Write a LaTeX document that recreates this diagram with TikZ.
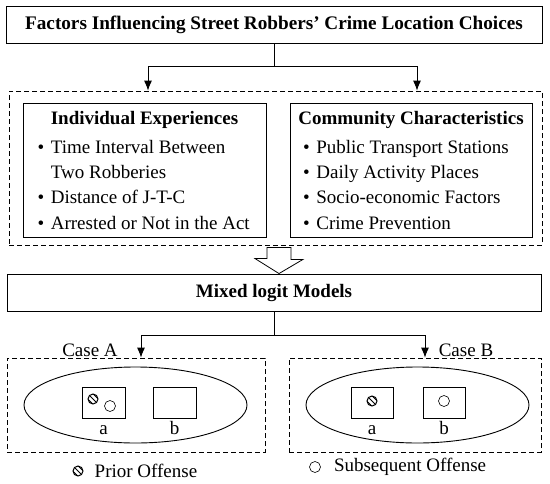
\documentclass[tikz,border=0pt]{standalone}
\usepackage{fontspec}
\setmainfont{Liberation Serif}
\usepackage{tikz}
\usetikzlibrary{positioning, arrows.meta, shapes.geometric}

\tikzset{
  box/.style={draw, line width=0.9pt, inner sep=0pt},
  dashbox/.style={draw, dashed, dash pattern=on 5pt off 3pt, line width=0.8pt, inner sep=0pt},
  link/.style={line width=0.9pt},
  arrowlink/.style={line width=0.9pt, -{Latex[length=10pt, width=8pt]}},
  prior/.style={circle, draw, line width=1pt, minimum size=10pt, inner sep=0pt,
    path picture={
      \foreach \d in {-2.6, 0, 2.6}
        \draw[line width=0.9pt] ([shift={(\d pt,\d pt)}]path picture bounding box.north west)
          -- ([shift={(\d pt,\d pt)}]path picture bounding box.south east);
    }},
  subseq/.style={circle, draw, line width=0.6pt, minimum size=11pt, inner sep=0pt},
  caselabel/.style={below=3pt, text height=13pt, text depth=0pt, inner sep=0pt},
}

\begin{document}
\begin{tikzpicture}[x=1pt, y=-1pt, every node/.style={font=\fontsize{19}{22}\selectfont}]
    \useasboundingbox (0,0) rectangle (550,483);

    % Nodes
    \node[box, minimum width=536, minimum height=37] (title) at (274,24.5)
      {\fontsize{19.2}{22}\selectfont\bfseries Factors Influencing Street Robbers' Crime Location Choices};
    \node[dashbox, minimum width=533, minimum height=154] (factors) at (275.5,168) {};
    \node[box, minimum width=243, minimum height=134] (indiv) at (144.5,170) {};
    \node[box, minimum width=242, minimum height=134] (comm) at (411,170) {};

    \node (indivhead) at (144.5,120) {\bfseries Individual Experiences};
    \node[anchor=west, inner sep=0pt] (indivlist) at (37.5,186) {\fontsize{19}{25.3}\selectfont
      \begin{tabular}{@{}l@{\hspace{6.5pt}}l@{}}
        \textbullet & Time Interval Between\\
                    & Two Robberies\\
        \textbullet & Distance of J-T-C\\
        \textbullet & Arrested or Not in the Act
      \end{tabular}};
    \node (commhead) at (411,120) {\bfseries Community Characteristics};
    \node[anchor=west, inner sep=0pt] (commlist) at (303,186) {\fontsize{19}{25.3}\selectfont
      \begin{tabular}{@{}l@{\hspace{6.5pt}}l@{}}
        \textbullet & Public Transport Stations\\
        \textbullet & Daily Activity Places\\
        \textbullet & Socio-economic Factors\\
        \textbullet & Crime Prevention
      \end{tabular}};

    \node[box, minimum width=534, minimum height=37] (mixed) at (274,292.5) {\bfseries Mixed logit Models};

    \node[dashbox, minimum width=258, minimum height=94] (caseA) at (136,405) {};
    \node[dashbox, minimum width=252, minimum height=94] (caseB) at (415,405) {};
    \node (caseAlabel) at (90,350) {Case A};
    \node (caseBlabel) at (466,350) {Case B};

    \node[draw, ellipse, line width=0.9pt, minimum width=223, minimum height=76] (ellA) at (135.5,405) {};
    \node[draw, ellipse, line width=0.9pt, minimum width=223, minimum height=76] (ellB) at (417.5,405) {};

    \node[box, minimum width=43, minimum height=31] (Aa) at (103.5,402.5) {};
    \node[box, minimum width=43, minimum height=31] (Ab) at (174.5,402.5) {};
    \node[box, minimum width=42, minimum height=31] (Ba) at (372,402.5) {};
    \node[box, minimum width=42, minimum height=31] (Bb) at (444,402.5) {};
    \node[caselabel] at (Aa.south) (Aalabel) {a};
    \node[caselabel] at (Ab.south) (Ablabel) {b};
    \node[caselabel] at (Ba.south) (Balabel) {a};
    \node[caselabel] at (Bb.south) (Bblabel) {b};

    \node[prior] (Aprior) at (93,399) {};
    \node[subseq] (Asub) at (110,406) {};
    \node[prior] (Bprior) at (372,401) {};
    \node[subseq] (Bsub) at (444,401) {};

    % Legend
    \node[prior] (legprior) at (78,471) {};
    \node[right=11pt of legprior, inner sep=0pt] (legpriortext) {Prior Offense};
    \node[subseq] (legsub) at (315,467) {};
    \node[right=13pt of legsub, inner sep=0pt] (legsubtext) {Subsequent Offense};

    % Arrows
    \coordinate (fork1) at (title.south |- 0,66);
    \draw[link] (title.south) -- (fork1);
    \draw[arrowlink] (fork1) -| (148,0 |- factors.north);
    \draw[arrowlink] (fork1) -| (417,0 |- factors.north);
    \draw[line width=0.8pt] (factors.south) ++(-8.5,2) -- ++(24,0) -- ++(0,12) -- ++(12,0)
      -- (mixed.north -| 279,0) -- ++(-24,-15) -- ++(12,0) -- cycle;
    \coordinate (fork2) at (mixed.south |- 0,335);
    \draw[link] (mixed.south) -- (fork2);
    \draw[arrowlink] (fork2) -| (141,0 |- caseA.north);
    \draw[arrowlink] (fork2) -| (425,0 |- caseB.north);
\end{tikzpicture}
\end{document}
